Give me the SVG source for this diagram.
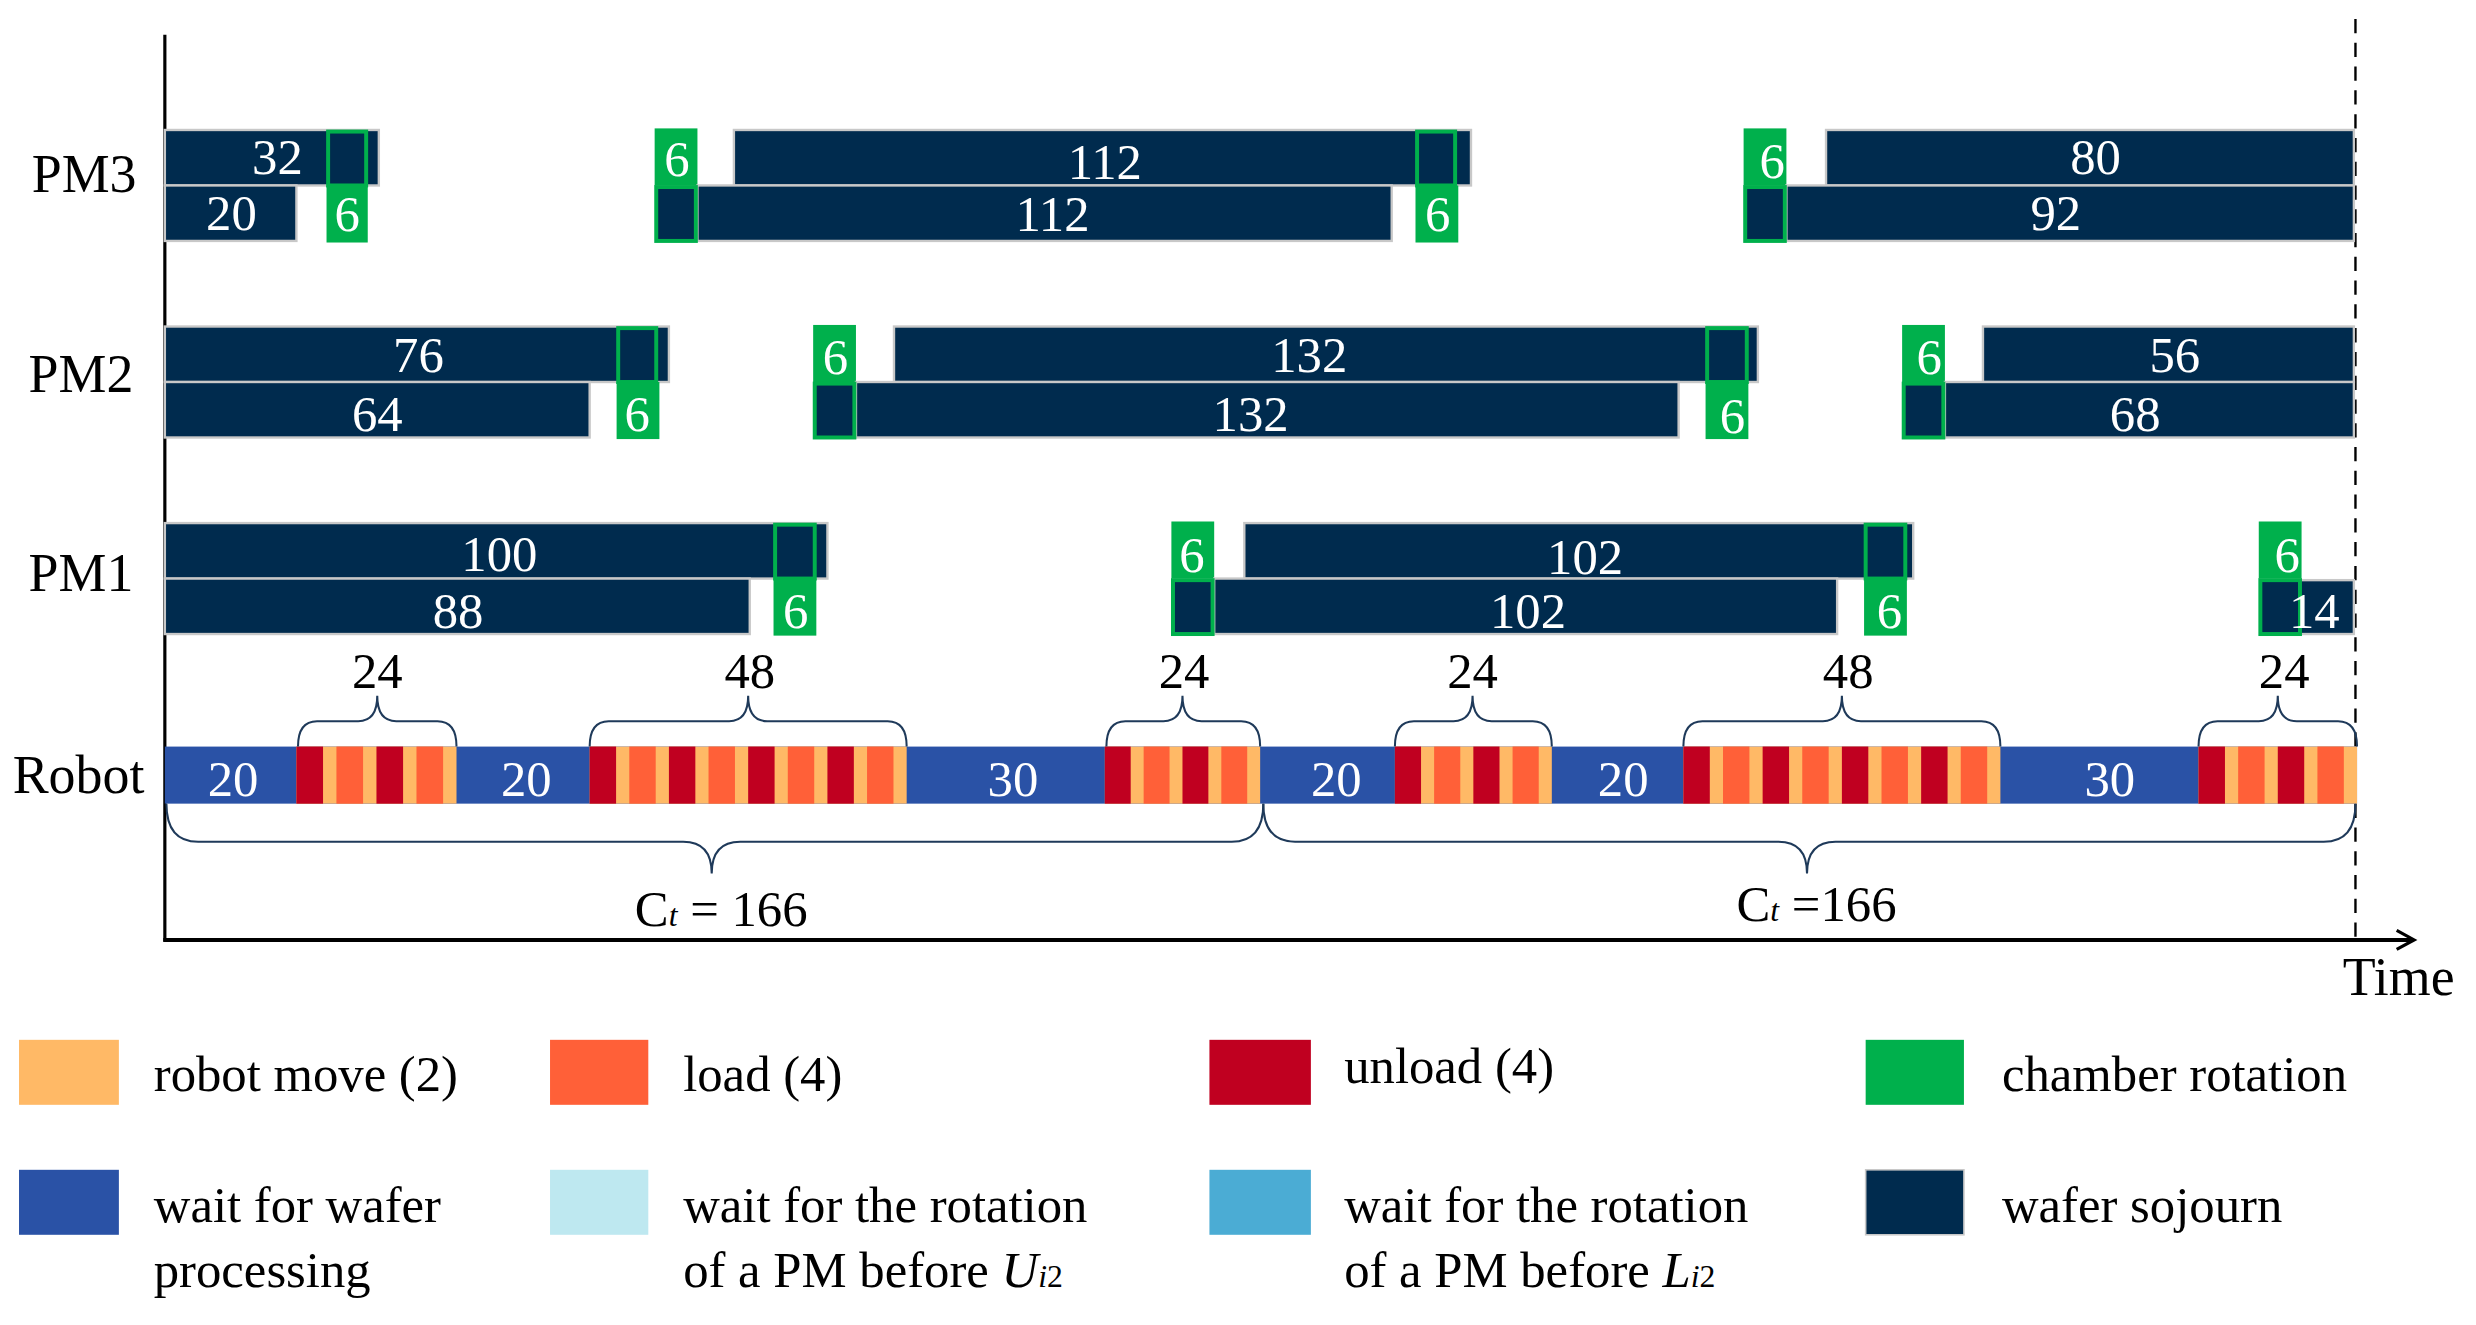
<svg xmlns="http://www.w3.org/2000/svg" width="2476" height="1325" viewBox="0 0 2476 1325">
<style>
text{font-family:"Liberation Serif","Times New Roman",serif}
.lbl{font-size:34px;fill:#000}
.w{font-size:32px;fill:#fff;text-anchor:middle}
.num{font-size:32px;fill:#000;text-anchor:middle}
.leg{font-size:32px;fill:#000}
.nv{fill:#002B4E;stroke:#C8C8C8;stroke-width:1.5}
.gf{fill:#00B04C}
.go{fill:none;stroke:#00B04C;stroke-width:2.5}
.bl{fill:#2A52A6}
.rd{fill:#C00020}
.or{fill:#FF6038}
.mv{fill:#FFB966}
.br{fill:none;stroke:#1F3A5A;stroke-width:1.3}
</style>
<rect width="2476" height="1325" fill="#fff"/>
<g transform="scale(1.5851)">
<g id="axes">
<line x1="104" y1="22" x2="104" y2="594" stroke="#000" stroke-width="2"/>
<line x1="103" y1="593" x2="1522" y2="593" stroke="#000" stroke-width="2.5"/>
<path d="M1512 587 L1523 593 L1512 599" fill="none" stroke="#000" stroke-width="2"/>
<line x1="1486" y1="12" x2="1486" y2="593" stroke="#000" stroke-width="1.5" stroke-dasharray="9,6"/>
<text class="lbl" x="1478" y="628">Time</text>
</g>
<g id="labels">
<text class="lbl" x="20" y="121">PM3</text>
<text class="lbl" x="18" y="247">PM2</text>
<text class="lbl" x="18" y="373">PM1</text>
<text class="lbl" x="8" y="500">Robot</text>
</g>
<g id="pm3">
<rect class="nv" x="104" y="82" width="135" height="35"/>
<rect class="nv" x="104" y="117" width="83" height="35"/>
<rect class="go" x="207" y="83" width="24" height="34"/>
<rect class="gf" x="206" y="117" width="26" height="36"/>
<rect class="gf" x="413" y="81" width="27" height="36"/>
<rect class="nv" x="463" y="82" width="465" height="35"/>
<rect class="nv" x="440" y="117" width="438" height="35"/>
<rect class="nv" x="414" y="118" width="25" height="34"/>
<rect class="go" x="414" y="118" width="25" height="34"/>
<rect class="go" x="894" y="83" width="24" height="34"/>
<rect class="gf" x="893" y="117" width="27" height="36"/>
<rect class="gf" x="1100" y="81" width="27" height="36"/>
<rect class="nv" x="1152" y="82" width="333" height="35"/>
<rect class="nv" x="1127" y="117" width="358" height="35"/>
<rect class="nv" x="1101" y="118" width="25" height="34"/>
<rect class="go" x="1101" y="118" width="25" height="34"/>
<text class="w" x="175" y="110">32</text>
<text class="w" x="146" y="145">20</text>
<text class="w" x="219" y="146">6</text>
<text class="w" x="427" y="111">6</text>
<text class="w" x="697" y="113">112</text>
<text class="w" x="664" y="146">112</text>
<text class="w" x="907" y="146">6</text>
<text class="w" x="1118" y="112">6</text>
<text class="w" x="1322" y="110">80</text>
<text class="w" x="1297" y="145">92</text>
</g>
<g id="pm2">
<rect class="nv" x="104" y="206" width="318" height="35"/>
<rect class="nv" x="104" y="241" width="268" height="35"/>
<rect class="go" x="390" y="207" width="24" height="34"/>
<rect class="gf" x="389" y="241" width="27" height="36"/>
<rect class="gf" x="513" y="205" width="27" height="36"/>
<rect class="nv" x="564" y="206" width="545" height="35"/>
<rect class="nv" x="540" y="241" width="519" height="35"/>
<rect class="nv" x="514" y="242" width="25" height="34"/>
<rect class="go" x="514" y="242" width="25" height="34"/>
<rect class="go" x="1077" y="207" width="25" height="34"/>
<rect class="gf" x="1076" y="241" width="27" height="36"/>
<rect class="gf" x="1200" y="205" width="27" height="36"/>
<rect class="nv" x="1251" y="206" width="234" height="35"/>
<rect class="nv" x="1227" y="241" width="258" height="35"/>
<rect class="nv" x="1201" y="242" width="25" height="34"/>
<rect class="go" x="1201" y="242" width="25" height="34"/>
<text class="w" x="264" y="235">76</text>
<text class="w" x="238" y="272">64</text>
<text class="w" x="402" y="272">6</text>
<text class="w" x="527" y="236">6</text>
<text class="w" x="826" y="235">132</text>
<text class="w" x="789" y="272">132</text>
<text class="w" x="1093" y="273">6</text>
<text class="w" x="1217" y="236">6</text>
<text class="w" x="1372" y="235">56</text>
<text class="w" x="1347" y="272">68</text>
</g>
<g id="pm1">
<rect class="nv" x="104" y="330" width="418" height="35"/>
<rect class="nv" x="104" y="365" width="369" height="35"/>
<rect class="go" x="489" y="331" width="25" height="34"/>
<rect class="gf" x="488" y="365" width="27" height="36"/>
<rect class="gf" x="739" y="329" width="27" height="36"/>
<rect class="nv" x="785" y="330" width="422" height="35"/>
<rect class="nv" x="766" y="365" width="393" height="35"/>
<rect class="nv" x="740" y="366" width="25" height="34"/>
<rect class="go" x="740" y="366" width="25" height="34"/>
<rect class="go" x="1177" y="331" width="25" height="34"/>
<rect class="gf" x="1176" y="365" width="27" height="36"/>
<rect class="gf" x="1425" y="329" width="27" height="36"/>
<rect class="nv" x="1426" y="366" width="59" height="34"/>
<rect class="go" x="1426" y="366" width="25" height="34"/>
<text class="w" x="315" y="360">100</text>
<text class="w" x="289" y="396">88</text>
<text class="w" x="502" y="396">6</text>
<text class="w" x="752" y="361">6</text>
<text class="w" x="1000" y="362">102</text>
<text class="w" x="964" y="396">102</text>
<text class="w" x="1192" y="396">6</text>
<text class="w" x="1443" y="361">6</text>
<text class="w" x="1460" y="396">14</text>
</g>
<g id="robot">
<rect class="bl" x="104" y="471" width="1383" height="36"/>
<rect class="mv" x="187" y="471" width="101" height="36"/>
<rect class="rd" x="187" y="471" width="16.8" height="36"/><rect class="or" x="212.25" y="471" width="16.8" height="36"/>
<rect class="rd" x="237.5" y="471" width="16.8" height="36"/><rect class="or" x="262.75" y="471" width="16.8" height="36"/>
<rect class="mv" x="372" y="471" width="200" height="36"/>
<rect class="rd" x="372" y="471" width="16.67" height="36"/><rect class="or" x="397" y="471" width="16.67" height="36"/>
<rect class="rd" x="422" y="471" width="16.67" height="36"/><rect class="or" x="447" y="471" width="16.67" height="36"/>
<rect class="rd" x="472" y="471" width="16.67" height="36"/><rect class="or" x="497" y="471" width="16.67" height="36"/>
<rect class="rd" x="522" y="471" width="16.67" height="36"/><rect class="or" x="547" y="471" width="16.67" height="36"/>
<rect class="mv" x="697" y="471" width="98" height="36"/>
<rect class="rd" x="697" y="471" width="16.33" height="36"/><rect class="or" x="721.5" y="471" width="16.33" height="36"/>
<rect class="rd" x="746" y="471" width="16.33" height="36"/><rect class="or" x="770.5" y="471" width="16.33" height="36"/>
<rect class="mv" x="880" y="471" width="99" height="36"/>
<rect class="rd" x="880" y="471" width="16.5" height="36"/><rect class="or" x="904.75" y="471" width="16.5" height="36"/>
<rect class="rd" x="929.5" y="471" width="16.5" height="36"/><rect class="or" x="954.25" y="471" width="16.5" height="36"/>
<rect class="mv" x="1062" y="471" width="200" height="36"/>
<rect class="rd" x="1062" y="471" width="16.67" height="36"/><rect class="or" x="1087" y="471" width="16.67" height="36"/>
<rect class="rd" x="1112" y="471" width="16.67" height="36"/><rect class="or" x="1137" y="471" width="16.67" height="36"/>
<rect class="rd" x="1162" y="471" width="16.67" height="36"/><rect class="or" x="1187" y="471" width="16.67" height="36"/>
<rect class="rd" x="1212" y="471" width="16.67" height="36"/><rect class="or" x="1237" y="471" width="16.67" height="36"/>
<rect class="mv" x="1387" y="471" width="100" height="36"/>
<rect class="rd" x="1387" y="471" width="16.67" height="36"/><rect class="or" x="1412" y="471" width="16.67" height="36"/>
<rect class="rd" x="1437" y="471" width="16.67" height="36"/><rect class="or" x="1462" y="471" width="16.67" height="36"/>
<text class="w" x="147" y="502">20</text>
<text class="w" x="332" y="502">20</text>
<text class="w" x="639" y="502">30</text>
<text class="w" x="843" y="502">20</text>
<text class="w" x="1024" y="502">20</text>
<text class="w" x="1331" y="502">30</text>
</g>
<g id="connectors">
<path class="br" d="M188 471 Q188 455 200 455 L226 455 Q238 455 238 439 Q238 455 250 455 L276 455 Q288 455 288 471"/>
<path class="br" d="M372 471 Q372 455 384 455 L460 455 Q472 455 472 439 Q472 455 484 455 L560 455 Q572 455 572 471"/>
<path class="br" d="M698 471 Q698 455 710 455 L734 455 Q746 455 746 439 Q746 455 758 455 L783 455 Q795 455 795 471"/>
<path class="br" d="M880 471 Q880 455 892 455 L917 455 Q929 455 929 439 Q929 455 941 455 L967 455 Q979 455 979 471"/>
<path class="br" d="M1062 471 Q1062 455 1074 455 L1150 455 Q1162 455 1162 439 Q1162 455 1174 455 L1250 455 Q1262 455 1262 471"/>
<path class="br" d="M1387 471 Q1387 455 1399 455 L1425 455 Q1437 455 1437 439 Q1437 455 1449 455 L1475 455 Q1487 455 1487 471"/>
<path class="br" d="M105 507 Q105 531 125 531 L431 531 Q449 531 449 551 Q449 531 467 531 L777 531 Q797 531 797 507"/>
<path class="br" d="M797 507 Q797 531 817 531 L1122 531 Q1140 531 1140 551 Q1140 531 1158 531 L1466 531 Q1486 531 1486 507"/>
<text class="num" x="238" y="434">24</text>
<text class="num" x="473" y="434">48</text>
<text class="num" x="747" y="434">24</text>
<text class="num" x="929" y="434">24</text>
<text class="num" x="1166" y="434">48</text>
<text class="num" x="1441" y="434">24</text>
<text class="num" x="455" y="584">C<tspan font-style="italic" font-size="20">t</tspan> = 166</text>
<text class="num" x="1146" y="581">C<tspan font-style="italic" font-size="20">t</tspan> =166</text>
</g>
<g id="legend">
<rect x="12" y="656" width="63" height="41" fill="#FFB966"/>
<rect x="347" y="656" width="62" height="41" fill="#FF6038"/>
<rect x="763" y="656" width="64" height="41" fill="#C00020"/>
<rect x="1177" y="656" width="62" height="41" fill="#00B04C"/>
<rect x="12" y="738" width="63" height="41" fill="#2A52A6"/>
<rect x="347" y="738" width="62" height="41" fill="#BEE8F0"/>
<rect x="763" y="738" width="64" height="41" fill="#4BACD4"/>
<rect x="1177" y="738" width="62" height="41" fill="#002B4E" stroke="#C8C8C8" stroke-width="1"/>
<text class="leg" x="97" y="688">robot move (2)</text>
<text class="leg" x="431" y="688">load (4)</text>
<text class="leg" x="848" y="683">unload (4)</text>
<text class="leg" x="1263" y="688">chamber rotation</text>
<text class="leg" x="97" y="771">wait for wafer</text>
<text class="leg" x="97" y="812">processing</text>
<text class="leg" x="431" y="771">wait for the rotation</text>
<text class="leg" x="431" y="812">of a PM before <tspan font-style="italic">U</tspan><tspan font-style="italic" font-size="20">i</tspan><tspan font-size="20">2</tspan></text>
<text class="leg" x="848" y="771">wait for the rotation</text>
<text class="leg" x="848" y="812">of a PM before <tspan font-style="italic">L</tspan><tspan font-style="italic" font-size="20">i</tspan><tspan font-size="20">2</tspan></text>
<text class="leg" x="1263" y="771">wafer sojourn</text>
</g>
</g>
</svg>
